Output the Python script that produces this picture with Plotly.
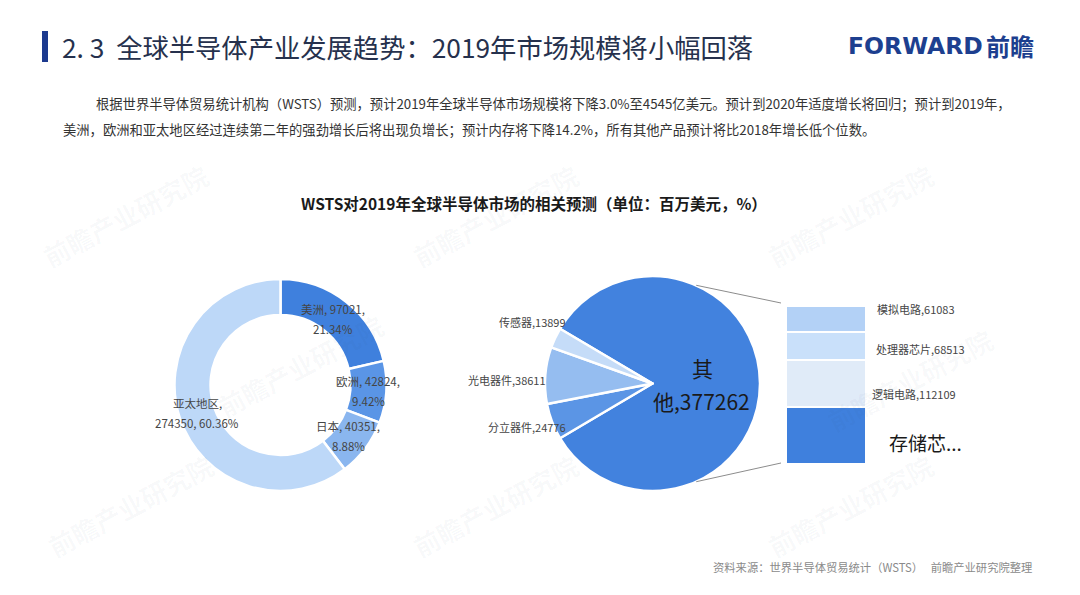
import plotly.graph_objects as go
import math

W, H = 1080, 595

# ---------------- data ----------------
region_names = ["美洲", "欧洲", "日本", "亚太地区"]
region_values = [97021, 42824, 40351, 274350]
region_pct = ["21.34%", "9.42%", "8.88%", "60.36%"]
region_colors = ["#3f80dd", "#5a95e6", "#8ab6ef", "#bdd8f8"]

product_names = ["其他", "分立器件", "光电器件", "传感器"]
product_values = [377262, 24776, 38611, 13899]
product_colors = ["#4282de", "#5b95e5", "#95bdf0", "#c5dcf8"]

other_names = ["存储芯片", "逻辑电路", "处理器芯片", "模拟电路"]
other_values = [135557, 112109, 68513, 61083]
other_colors = ["#3f80dd", "#e0ebf8", "#c9e0fa", "#b3d1f6"]

FONT = "Noto Sans CJK SC"

def px_x(x):
    return x / W

def px_y(y):
    return 1 - y / H

fig = go.Figure()

# ---------------- faint watermarks ----------------
wm_pos = [(125, 215), (495, 215), (850, 215), (300, 365), (910, 380), (130, 505), (495, 505), (850, 505)]
for (wx, wy) in wm_pos:
    fig.add_annotation(x=px_x(wx), y=px_y(wy), xref="paper", yref="paper",
                       text="<b>前瞻产业研究院</b>", showarrow=False, textangle=-28,
                       font=dict(family=FONT, size=26, color="rgba(40,70,120,0.035)"),
                       xanchor="center", yanchor="middle")

# ---------------- donut ----------------
fig.add_trace(go.Pie(
    labels=region_names, values=region_values, hole=0.66,
    sort=False, direction="clockwise", rotation=0,
    marker=dict(colors=region_colors, line=dict(color="white", width=2.5)),
    textinfo="none", hoverinfo="label+value+percent",
    domain=dict(x=[px_x(174), px_x(387)], y=[px_y(491), px_y(279)]),
    showlegend=False,
))

donut_lines = [
    (f"{region_names[0]}, {region_values[0]},", region_pct[0]),
    (f"{region_names[1]}, {region_values[1]},", region_pct[1]),
    (f"{region_names[2]}, {region_values[2]},", region_pct[2]),
    (f"{region_names[3]},", f"{region_values[3]}, {region_pct[3]}"),
]
dcx, dcy, dr = 280.5, 385, 106
cum = 0
tot = sum(region_values)
donut_label_r = [0.80, 0.80, 0.80, 0.83]
donut_label_dx = [0, 3, 0, 0]
for i, v in enumerate(region_values):
    mid = (cum + v / 2) / tot * 2 * math.pi
    cum += v
    r = dr * donut_label_r[i]
    x = dcx + r * math.sin(mid) + donut_label_dx[i]
    y = dcy - r * math.cos(mid)
    for k, line in enumerate(donut_lines[i]):
        fig.add_annotation(x=px_x(x), y=px_y(y - 10 + 20 * k), xref="paper", yref="paper",
                           text=line, showarrow=False,
                           font=dict(family=FONT, size=11.5, color="#454545"),
                           xanchor="center", yanchor="middle")

# ---------------- pie ----------------
small_total = sum(product_values[1:])
tot_p = sum(product_values)
rot = 270 + small_total / tot_p * 360 / 2
fig.add_trace(go.Pie(
    labels=product_names, values=product_values,
    sort=False, direction="clockwise", rotation=rot,
    marker=dict(colors=product_colors, line=dict(color="white", width=2.5)),
    textinfo="none", hoverinfo="label+value",
    domain=dict(x=[px_x(545), px_x(760)], y=[px_y(491), px_y(276)]),
    showlegend=False,
))

fig.add_annotation(x=px_x(702), y=px_y(368), xref="paper", yref="paper",
                   text=product_names[0][0], showarrow=False,
                   font=dict(family=FONT, size=21, color="#1a1a1a"),
                   xanchor="center", yanchor="middle")
fig.add_annotation(x=px_x(701), y=px_y(401), xref="paper", yref="paper",
                   text=f"{product_names[0][1]},{product_values[0]}", showarrow=False,
                   font=dict(family=FONT, size=21, color="#1a1a1a"),
                   xanchor="center", yanchor="middle")
small_label_pos = {1: (568, 427), 2: (548, 380), 3: (568, 322)}
for i in range(1, 4):
    x, y = small_label_pos[i]
    fig.add_annotation(x=px_x(x), y=px_y(y), xref="paper", yref="paper",
                       text=f"{product_names[i]},{product_values[i]}", showarrow=False,
                       font=dict(family=FONT, size=11, color="#454545"),
                       xanchor="right", yanchor="middle")

# ---------------- stacked bar (breakdown of 其他) ----------------
for n, v, c in zip(other_names, other_values, other_colors):
    fig.add_trace(go.Bar(
        x=[0], y=[v], name=n, marker=dict(color=c, line=dict(color="white", width=2.5)),
        width=1, showlegend=False, hoverinfo="name+y", xaxis="x", yaxis="y",
    ))

bar_top = sum(other_values)
label_xshift = [21, 4, 8, 9]
label_yshift = [-7, -10, -3, 10]
cum = 0
for i, (n, v) in enumerate(zip(other_names, other_values)):
    mid = cum + v / 2
    cum += v
    if i == 0:
        fig.add_annotation(x=0.5, y=mid, xref="x", yref="y", text=n[:3] + "...",
                           showarrow=False, xanchor="left", yanchor="middle",
                           xshift=label_xshift[i], yshift=label_yshift[i],
                           font=dict(family=FONT, size=19, color="#1a1a1a"))
    else:
        fig.add_annotation(x=0.5, y=mid, xref="x", yref="y", text=f"{n},{v}",
                           showarrow=False, xanchor="left", yanchor="middle",
                           xshift=label_xshift[i], yshift=label_yshift[i],
                           font=dict(family=FONT, size=11, color="#454545"))

# connector lines from pie to bar
pcx, pcy, pr = 652.5, 383.5, 107.5
fig.add_shape(type="line", xref="paper", yref="paper",
              x0=px_x(pcx + pr * math.cos(math.radians(66))),
              y0=px_y(pcy - pr * math.sin(math.radians(66))),
              x1=px_x(781), y1=px_y(303), line=dict(color="#8c8c8c", width=1))
fig.add_shape(type="line", xref="paper", yref="paper",
              x0=px_x(pcx + pr * math.cos(math.radians(66))),
              y0=px_y(pcy + pr * math.sin(math.radians(66))),
              x1=px_x(781), y1=px_y(463), line=dict(color="#8c8c8c", width=1))

# ---------------- header / text ----------------
fig.add_shape(type="rect", xref="paper", yref="paper",
              x0=px_x(42), x1=px_x(48), y0=px_y(62), y1=px_y(31),
              fillcolor="#1c3a8f", line=dict(width=0))
fig.add_annotation(x=px_x(60), y=px_y(47), xref="paper", yref="paper",
                   text="2. 3  全球半导体产业发展趋势：2019年市场规模将小幅回落",
                   showarrow=False, xanchor="left", yanchor="middle",
                   font=dict(family=FONT, size=26.3, color="#26314d"))
fig.add_annotation(x=px_x(985), y=px_y(46), xref="paper", yref="paper",
                   text="<b>FORWARD</b>", showarrow=False,
                   xanchor="right", yanchor="middle",
                   font=dict(family="DejaVu Sans", size=23.5, color="#1d3f8f"))
fig.add_annotation(x=px_x(984), y=px_y(46), xref="paper", yref="paper",
                   text="<b>前瞻</b>", showarrow=False,
                   xanchor="left", yanchor="middle",
                   font=dict(family=FONT, size=24, color="#1d3f8f"))
fig.add_annotation(x=px_x(94), y=px_y(103), xref="paper", yref="paper",
                   text="根据世界半导体贸易统计机构（WSTS）预测，预计2019年全球半导体市场规模将下降3.0%至4545亿美元。预计到2020年适度增长将回归；预计到2019年，",
                   showarrow=False, xanchor="left", yanchor="middle",
                   font=dict(family=FONT, size=13.3, color="#333333"))
fig.add_annotation(x=px_x(61), y=px_y(129), xref="paper", yref="paper",
                   text="美洲，欧洲和亚太地区经过连续第二年的强劲增长后将出现负增长；预计内存将下降14.2%，所有其他产品预计将比2018年增长低个位数。",
                   showarrow=False, xanchor="left", yanchor="middle",
                   font=dict(family=FONT, size=13.3, color="#333333"))
fig.add_annotation(x=px_x(534), y=px_y(203), xref="paper", yref="paper",
                   text="<b>WSTS对2019年全球半导体市场的相关预测（单位：百万美元，%）</b>",
                   showarrow=False, xanchor="center", yanchor="middle",
                   font=dict(family=FONT, size=15.5, color="#1a1a1a"))
fig.add_annotation(x=px_x(1034), y=px_y(567), xref="paper", yref="paper",
                   text="资料来源：世界半导体贸易统计（WSTS）   前瞻产业研究院整理",
                   showarrow=False, xanchor="right", yanchor="middle",
                   font=dict(family=FONT, size=11.3, color="#8a8a8a"))

fig.update_layout(
    width=W, height=H, margin=dict(l=0, r=0, t=0, b=0),
    paper_bgcolor="white", plot_bgcolor="rgba(0,0,0,0)",
    barmode="stack", bargap=0,
    xaxis=dict(domain=[px_x(786), px_x(866)], range=[-0.5, 0.5], visible=False, fixedrange=True),
    yaxis=dict(domain=[px_y(464), px_y(306)], range=[0, bar_top], visible=False, fixedrange=True),
)

fig.write_html("out.html")
